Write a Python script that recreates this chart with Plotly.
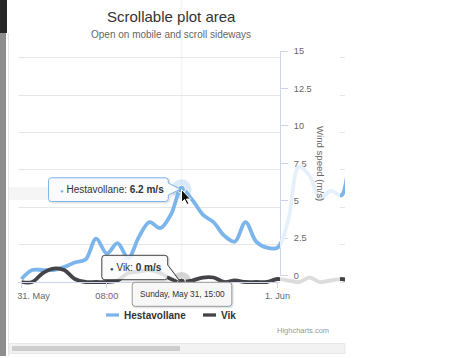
import plotly.graph_objects as go
import pandas as pd

W, H = 474, 358

# ---------------- data ----------------
title_text = "Scrollable plot area"
subtitle_text = "Open on mobile and scroll sideways"
axis_title = "Wind speed (m/s)"
credits_text = "Highcharts.com"
tooltip_header = "Sunday, May 31, 15:00"

series_names = ["Hestavollane", "Vik"]
series_colors = ["#7cb5ec", "#434348"]
faded_colors = ["#e6f0fb", "#dcdcde"]

hestavollane = [0.2, 0.8, 0.8, 0.8, 1, 1.3, 1.5, 2.9, 1.9, 2.6, 1.6, 3, 4, 3.6, 4.5,
                6.2, 5.5, 4.5, 4, 3.1, 2.7, 4, 2.7, 2.3, 2.3, 4.1, 7.7, 7.1, 5.6,
                6.1, 5.8, 8.6, 7.2]
vik = [0, 0, 0.6, 0.9, 0.8, 0.2, 0, 0, 0, 0.1, 0.6, 0.7, 0.8, 0.6, 0.2, 0, 0.1,
       0.3, 0.3, 0, 0.1, 0, 0, 0, 0.2, 0.1, 0, 0.3, 0, 0.1, 0.2, 0.1, 0.3]

start = "2015-05-31 00:00"
times = pd.date_range(start, periods=len(hestavollane), freq="h")

x_tick_hours = [0, 8, 16, 24]
x_tick_labels = ["31. May", "08:00", "16:00", "1. Jun"]
hidden_tick_labels = ["16:00"]          # covered by the tooltip header in the reference
y_ticks = [0, 2.5, 5, 7.5, 10, 12.5, 15]
y_tick_labels = ["0", "2.5", "5", "7.5", "10", "12.5", "15"]

hover_index = 15
value_suffix = " m/s"

# ---------------- layout helpers ----------------
FONT = "Liberation Sans"
X0, PPH = 21.5, 10.667      # pixel of hour 0, pixels per hour
Y0, PPU = 282.0, 14.96      # pixel of value 0, pixels per unit


def hour_at(px):
    return (px - X0) / PPH


def t_at(h):
    return pd.Timestamp(start) + pd.Timedelta(hours=h)


def fx(px):
    return px / W


def fy(py):
    return (H - py) / H


def P(x, y):
    return f"{fx(x):.5f},{fy(y):.5f}"


y_range = [-(285 - Y0) / PPU, (Y0 - 56) / PPU]
y_dom = [fy(285), fy(56)]
y2_bottom = 275.5
y2_dom = [fy(y2_bottom), fy(y2_bottom - 15 * PPU)]

fig = go.Figure()

# faded part (under the fixed axis overlay)
for vals, col in zip([hestavollane, vik], faded_colors):
    fig.add_trace(go.Scatter(x=times, y=vals, mode="lines", xaxis="x2", yaxis="y3",
                             line=dict(color=col, width=3.8, shape="spline", smoothing=1),
                             hoverinfo="skip", showlegend=False))
# right edge stub
for vals, col in zip([hestavollane, vik], series_colors):
    fig.add_trace(go.Scatter(x=times, y=vals, mode="lines", xaxis="x3", yaxis="y4",
                             line=dict(color=col, width=3.8, shape="spline", smoothing=1),
                             hoverinfo="skip", showlegend=False))
# main visible part
for vals, col, name in zip([hestavollane, vik], series_colors, series_names):
    fig.add_trace(go.Scatter(x=times, y=vals, mode="lines", name=name, xaxis="x", yaxis="y",
                             line=dict(color=col, width=3.8, shape="spline", smoothing=1),
                             hoverinfo="skip", showlegend=False))

# hover markers with halos
halo_cols = ["rgba(124,181,236,0.28)", "rgba(67,67,72,0.22)"]
for vals, col, hc in zip([hestavollane, vik], series_colors, halo_cols):
    fig.add_trace(go.Scatter(x=[times[hover_index]], y=[vals[hover_index]], mode="markers",
                             marker=dict(size=20, color=hc, line=dict(width=0)),
                             cliponaxis=False, hoverinfo="skip", showlegend=False))
    fig.add_trace(go.Scatter(x=[times[hover_index]], y=[vals[hover_index]], mode="markers",
                             marker=dict(size=8, color=col, line=dict(width=1, color="#ffffff")),
                             cliponaxis=False, hoverinfo="skip", showlegend=False))

# carriers for the fixed right axis and the justified first x label
fig.add_trace(go.Scatter(x=[times[0]], y=[None], mode="lines", xaxis="x", yaxis="y2",
                         hoverinfo="skip", showlegend=False))
fig.add_trace(go.Scatter(x=[times[0]], y=[None], mode="lines", xaxis="x4", yaxis="y",
                         hoverinfo="skip", showlegend=False))

tickfont = dict(family=FONT, size=9.2, color="#666666")
x_range = [t_at(hour_at(18)), t_at(hour_at(280))]
main_ticktext = ["" if (i == 0 or lab in hidden_tick_labels) else lab
                 for i, lab in enumerate(x_tick_labels)]

fig.update_layout(
    width=W, height=H, margin=dict(l=0, r=0, t=0, b=0, autoexpand=False),
    paper_bgcolor="#ffffff", plot_bgcolor="rgba(0,0,0,0)",
    showlegend=False, hovermode=False,
    font=dict(family=FONT, color="#333333"),
    xaxis=dict(domain=[fx(18), fx(280)], range=x_range,
               anchor="free", position=fy(Y0), showline=True, linecolor="#ccd6eb", linewidth=1,
               ticks="outside", ticklen=5, tickcolor="#ccd6eb",
               tickvals=[t_at(h) for h in x_tick_hours], ticktext=main_ticktext,
               ticklabeloverflow="allow",
               tickfont=tickfont, showgrid=False, zeroline=False, automargin=False),
    xaxis4=dict(overlaying="x", range=x_range, anchor="free", position=fy(Y0),
                showline=False, ticks="outside", ticklen=5, tickcolor="rgba(0,0,0,0)",
                tickvals=[t_at(x_tick_hours[0])], ticktext=[x_tick_labels[0]],
                ticklabelshift=12, ticklabeloverflow="allow", tickfont=tickfont,
                showgrid=False, zeroline=False, automargin=False),
    yaxis=dict(domain=y_dom, range=y_range, anchor="x", showgrid=True, gridcolor="#e6e6e6",
               gridwidth=1, tickvals=y_ticks, showticklabels=False, ticks="",
               zeroline=False, showline=False, automargin=False),
    xaxis2=dict(domain=[fx(280), fx(340)], range=[t_at(hour_at(280)), t_at(hour_at(340))],
                anchor="y3", visible=False, automargin=False),
    yaxis3=dict(domain=y_dom, range=y_range, anchor="x2", visible=False, automargin=False),
    xaxis3=dict(domain=[fx(340), fx(345)], range=[t_at(hour_at(340)), t_at(hour_at(345))],
                anchor="y4", visible=False, automargin=False),
    yaxis4=dict(domain=y_dom, range=y_range, anchor="x3", showgrid=True, gridcolor="#e6e6e6",
                tickvals=y_ticks, showticklabels=False, ticks="", zeroline=False, showline=False,
                automargin=False),
    yaxis2=dict(domain=y2_dom, range=[0, 15], anchor="free", position=fx(280), side="right",
                showline=True, linecolor="#ccd6eb", linewidth=1, ticks="outside", ticklen=7,
                tickcolor="#ccd6eb", tickvals=y_ticks, ticktext=y_tick_labels,
                tickfont=tickfont, ticklabelstandoff=4, showgrid=False, zeroline=False,
                automargin=False),
)

shapes = []
# crosshair-like faint band and left faint band
shapes.append(dict(type="line", xref="paper", yref="paper", x0=fx(181.5), x1=fx(181.5),
                   y0=fy(Y0), y1=fy(0), line=dict(color="rgba(0,0,0,0.035)", width=2), layer="below"))
shapes.append(dict(type="rect", xref="paper", yref="paper", x0=fx(9), x1=fx(48), y0=fy(200), y1=fy(187),
                   fillcolor="#f5f5f5", line=dict(width=0), layer="below"))


def tooltip_path(x0, y0, x1, y1, r, callout, dx=0, dy=0):
    x0, y0, x1, y1 = x0 + dx, y0 + dy, x1 + dx, y1 + dy
    s = f"M{P(x0 + r, y0)} L{P(x1 - r, y0)} Q{P(x1, y0)} {P(x1, y0 + r)}"
    for (cx, cy) in callout:
        s += f" L{P(cx + dx, cy + dy)}"
    s += (f" L{P(x1, y1 - r)} Q{P(x1, y1)} {P(x1 - r, y1)} L{P(x0 + r, y1)}"
          f" Q{P(x0, y1)} {P(x0, y1 - r)} L{P(x0, y0 + r)} Q{P(x0, y0)} {P(x0 + r, y0)} Z")
    return s


tips = [
    (48.5, 177.8, 168.3, 201.5, [(168.3, 183), (180.5, 189.2), (168.3, 195)],
     series_colors[0], "rgba(250,250,250,0.88)"),
    (101.8, 255.3, 167.7, 279.7, [(167.7, 265), (180.5, 282), (167.7, 276)],
     series_colors[1], "rgba(250,250,250,0.85)"),
    (132.2, 282.3, 231.8, 306.3, [], "#999999", "#f7f7f7"),
]
for (a, b, c, d, co, bc, fc) in tips:
    shapes.append(dict(type="path", xref="paper", yref="paper",
                       path=tooltip_path(a, b, c, d, 3, co, 1, 1),
                       fillcolor="rgba(0,0,0,0)", line=dict(color="rgba(0,0,0,0.10)", width=2),
                       layer="above"))
    shapes.append(dict(type="path", xref="paper", yref="paper",
                       path=tooltip_path(a, b, c, d, 3, co),
                       fillcolor=fc, line=dict(color=bc, width=1), layer="above"))

# mouse cursor
cx, cy = 181.5, 189.5
arrow = [(0, 0), (0, 13), (3, 10), (5.5, 15), (7.5, 14), (5, 9.5), (9, 9.5)]
cpath = "M" + " L".join(P(cx + ax, cy + ay) for ax, ay in arrow) + " Z"
shapes.append(dict(type="path", xref="paper", yref="paper", path=cpath,
                   fillcolor="#111111", line=dict(color="#ffffff", width=1), layer="above"))

# legend symbols
for (lx0, lx1), col in zip([(106, 119), (203, 216)], series_colors):
    shapes.append(dict(type="line", xref="paper", yref="paper", x0=fx(lx0), x1=fx(lx1),
                       y0=fy(315), y1=fy(315), line=dict(color=col, width=3.3), layer="above"))

# scrollbar
shapes.append(dict(type="rect", xref="paper", yref="paper", x0=fx(9), x1=fx(345), y0=fy(353.5),
                   y1=fy(343.5), fillcolor="#f2f2f2", line=dict(color="#e8e8e8", width=1), layer="above"))
shapes.append(dict(type="rect", xref="paper", yref="paper", x0=fx(12), x1=fx(180), y0=fy(351),
                   y1=fy(346), fillcolor="#cdcdcd", line=dict(width=0), layer="above"))

# window edge on the left
shapes.append(dict(type="rect", xref="paper", yref="paper", x0=0, x1=fx(7), y0=fy(33), y1=1,
                   fillcolor="#262626", line=dict(width=0), layer="above"))
shapes.append(dict(type="rect", xref="paper", yref="paper", x0=0, x1=fx(6), y0=fy(356), y1=fy(33),
                   fillcolor="#8e8e8e", line=dict(width=0), layer="above"))
shapes.append(dict(type="line", xref="paper", yref="paper", x0=fx(8.5), x1=fx(8.5), y0=fy(356),
                   y1=fy(33), line=dict(color="#e6e6e6", width=1), layer="above"))

fig.update_layout(shapes=shapes)


def fmt(v):
    return f"{v:g}"


ann = []
ann.append(dict(text=title_text, x=fx(171), y=fy(17), font=dict(size=15, color="#333333")))
ann.append(dict(text=subtitle_text, x=fx(170.5), y=fy(35), font=dict(size=10, color="#666666")))
ann.append(dict(text=axis_title, x=fx(321), y=fy(163), textangle=90,
                font=dict(size=9.6, color="#666666")))
ann.append(dict(text=credits_text, x=fx(330), y=fy(330), xanchor="right",
                font=dict(size=7.5, color="#999999")))
ann.append(dict(text=(f'<span style="font-size:6px;color:{series_colors[0]}">●</span> '
                      f'{series_names[0]}: <b>{fmt(hestavollane[hover_index])}{value_suffix}</b>'),
                x=fx(59), y=fy(189.8), xanchor="left", font=dict(size=10, color="#333333")))
ann.append(dict(text=(f'<span style="font-size:6px;color:{series_colors[1]}">●</span> '
                      f'{series_names[1]}: <b>{fmt(vik[hover_index])}{value_suffix}</b>'),
                x=fx(108.5), y=fy(267.5), xanchor="left", font=dict(size=10, color="#333333")))
ann.append(dict(text=tooltip_header, x=fx(182), y=fy(294.3), font=dict(size=8.3, color="#333333")))
for name, lx in zip(series_names, [123, 220]):
    ann.append(dict(text=f"<b>{name}</b>", x=fx(lx), y=fy(315), xanchor="left",
                    font=dict(size=10, color="#333333")))

for a in ann:
    a.setdefault("xanchor", "center")
    a.update(xref="paper", yref="paper", yanchor="middle", showarrow=False, borderpad=0)
    a["font"]["family"] = FONT

fig.update_layout(annotations=ann)

fig.write_html("out.html", config={"displayModeBar": False},
               post_script="document.body.style.margin='0px';")
